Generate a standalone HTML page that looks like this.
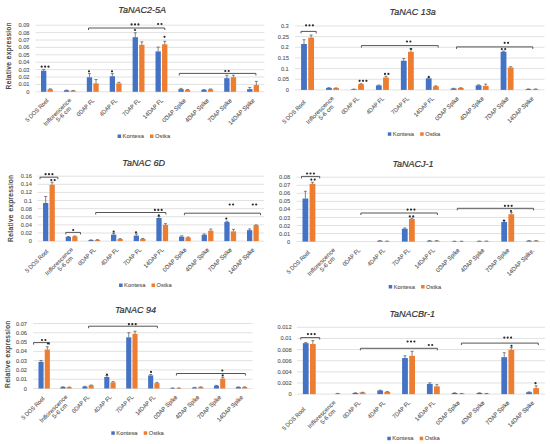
<!DOCTYPE html>
<html><head><meta charset="utf-8"><style>html,body{margin:0;padding:0;background:#fff;}svg{display:block;}text{font-family:"Liberation Sans", sans-serif;}.t{font-size:5.7px;fill:#595959;stroke:#595959;stroke-width:0.1px;text-anchor:end;}.l{font-size:6.0px;fill:#595959;stroke:#595959;stroke-width:0.1px;text-anchor:end;}.l.m{text-anchor:middle;}.a{font-size:7.5px;font-weight:bold;fill:#262626;text-anchor:middle;}.ti{font-size:9px;font-style:italic;fill:#303030;stroke:#303030;stroke-width:0.2px;text-anchor:middle;}.yl{font-size:6.6px;fill:#404040;stroke:#404040;stroke-width:0.2px;text-anchor:middle;}.lg{font-size:5.8px;fill:#595959;stroke:#595959;stroke-width:0.1px;}</style></head><body>
<svg width="550" height="444" viewBox="0 0 550 444">
<rect width="550" height="444" fill="#fff"/>
<g><line x1="35.5" y1="91.8" x2="264.5" y2="91.8" stroke="#D9D9D9" stroke-width="0.8"/><text class="t" x="29.5" y="93.85">0</text><line x1="35.5" y1="84.4" x2="264.5" y2="84.4" stroke="#D9D9D9" stroke-width="0.8"/><text class="t" x="29.5" y="86.45">0.01</text><line x1="35.5" y1="77" x2="264.5" y2="77" stroke="#D9D9D9" stroke-width="0.8"/><text class="t" x="29.5" y="79.05">0.02</text><line x1="35.5" y1="69.6" x2="264.5" y2="69.6" stroke="#D9D9D9" stroke-width="0.8"/><text class="t" x="29.5" y="71.65">0.03</text><line x1="35.5" y1="62.2" x2="264.5" y2="62.2" stroke="#D9D9D9" stroke-width="0.8"/><text class="t" x="29.5" y="64.25">0.04</text><line x1="35.5" y1="54.8" x2="264.5" y2="54.8" stroke="#D9D9D9" stroke-width="0.8"/><text class="t" x="29.5" y="56.85">0.05</text><line x1="35.5" y1="47.4" x2="264.5" y2="47.4" stroke="#D9D9D9" stroke-width="0.8"/><text class="t" x="29.5" y="49.45">0.06</text><line x1="35.5" y1="40" x2="264.5" y2="40" stroke="#D9D9D9" stroke-width="0.8"/><text class="t" x="29.5" y="42.05">0.07</text><line x1="35.5" y1="32.6" x2="264.5" y2="32.6" stroke="#D9D9D9" stroke-width="0.8"/><text class="t" x="29.5" y="34.65">0.08</text><line x1="35.5" y1="25.2" x2="264.5" y2="25.2" stroke="#D9D9D9" stroke-width="0.8"/><text class="t" x="29.5" y="27.25">0.09</text><rect x="41.01" y="70.71" width="5.33" height="21.09" fill="#4472C4"/><path d="M43.67 70.71V69.38M42.17 69.38H45.17" stroke="#505050" stroke-width="0.7" fill="none"/><rect x="47.56" y="89.21" width="5.33" height="2.59" fill="#ED7D31"/><path d="M50.23 89.21V88.84M48.73 88.84H51.73" stroke="#505050" stroke-width="0.7" fill="none"/><rect x="63.91" y="90.32" width="5.33" height="1.48" fill="#4472C4"/><path d="M66.57 90.32V90.1M65.07 90.1H68.07" stroke="#505050" stroke-width="0.7" fill="none"/><rect x="70.46" y="90.69" width="5.33" height="1.11" fill="#ED7D31"/><path d="M73.13 90.69V90.47M71.63 90.47H74.63" stroke="#505050" stroke-width="0.7" fill="none"/><rect x="86.81" y="77.3" width="5.33" height="14.5" fill="#4472C4"/><path d="M89.47 77.3V73.6M87.97 73.6H90.97" stroke="#505050" stroke-width="0.7" fill="none"/><rect x="93.36" y="83.36" width="5.33" height="8.44" fill="#ED7D31"/><path d="M96.03 83.36V79.52M94.53 79.52H97.53" stroke="#505050" stroke-width="0.7" fill="none"/><rect x="109.71" y="76.26" width="5.33" height="15.54" fill="#4472C4"/><path d="M112.37 76.26V73.67M110.87 73.67H113.87" stroke="#505050" stroke-width="0.7" fill="none"/><rect x="116.26" y="83.36" width="5.33" height="8.44" fill="#ED7D31"/><path d="M118.93 83.36V82.25M117.43 82.25H120.43" stroke="#505050" stroke-width="0.7" fill="none"/><rect x="132.61" y="37.19" width="5.33" height="54.61" fill="#4472C4"/><path d="M135.27 37.19V32.75M133.77 32.75H136.77" stroke="#505050" stroke-width="0.7" fill="none"/><rect x="139.16" y="44.81" width="5.33" height="46.99" fill="#ED7D31"/><path d="M141.83 44.81V41.85M140.33 41.85H143.33" stroke="#505050" stroke-width="0.7" fill="none"/><rect x="155.51" y="51.4" width="5.33" height="40.4" fill="#4472C4"/><path d="M158.17 51.4V47.1M156.67 47.1H159.67" stroke="#505050" stroke-width="0.7" fill="none"/><rect x="162.06" y="44.29" width="5.33" height="47.51" fill="#ED7D31"/><path d="M164.73 44.29V41.33M163.23 41.33H166.23" stroke="#505050" stroke-width="0.7" fill="none"/><rect x="178.41" y="89.14" width="5.33" height="2.66" fill="#4472C4"/><path d="M181.07 89.14V88.4M179.57 88.4H182.57" stroke="#505050" stroke-width="0.7" fill="none"/><rect x="184.96" y="89.88" width="5.33" height="1.92" fill="#ED7D31"/><path d="M187.63 89.88V89.58M186.13 89.58H189.13" stroke="#505050" stroke-width="0.7" fill="none"/><rect x="201.31" y="89.88" width="5.33" height="1.92" fill="#4472C4"/><path d="M203.97 89.88V89.58M202.47 89.58H205.47" stroke="#505050" stroke-width="0.7" fill="none"/><rect x="207.86" y="89.28" width="5.33" height="2.52" fill="#ED7D31"/><path d="M210.53 89.28V88.99M209.03 88.99H212.03" stroke="#505050" stroke-width="0.7" fill="none"/><rect x="224.21" y="78.18" width="5.33" height="13.62" fill="#4472C4"/><path d="M226.87 78.18V75.22M225.37 75.22H228.37" stroke="#505050" stroke-width="0.7" fill="none"/><rect x="230.76" y="77.22" width="5.33" height="14.58" fill="#ED7D31"/><path d="M233.43 77.22V75.22M231.93 75.22H234.93" stroke="#505050" stroke-width="0.7" fill="none"/><rect x="247.11" y="89.14" width="5.33" height="2.66" fill="#4472C4"/><path d="M249.77 89.14V87.43M248.27 87.43H251.27" stroke="#505050" stroke-width="0.7" fill="none"/><rect x="253.66" y="85.07" width="5.33" height="6.73" fill="#ED7D31"/><path d="M256.33 85.07V81.37M254.83 81.37H257.83" stroke="#505050" stroke-width="0.7" fill="none"/><text class="l" transform="translate(48.95 101) rotate(-45)" textLength="30" lengthAdjust="spacingAndGlyphs">5 DOS Root</text><text class="l m" transform="translate(71.85 101) rotate(-45)"><tspan x="-18.1" y="-0.5" textLength="36.47" lengthAdjust="spacingAndGlyphs">Inflorescence</tspan><tspan x="-15.2" y="5.4" textLength="18.54" lengthAdjust="spacingAndGlyphs">5-6 cm</tspan></text><text class="l" transform="translate(94.75 101) rotate(-45)" textLength="22.27" lengthAdjust="spacingAndGlyphs">0DAP FL</text><text class="l" transform="translate(117.65 101) rotate(-45)" textLength="22.27" lengthAdjust="spacingAndGlyphs">4DAP FL</text><text class="l" transform="translate(140.55 101) rotate(-45)" textLength="22.27" lengthAdjust="spacingAndGlyphs">7DAP FL</text><text class="l" transform="translate(163.45 101) rotate(-45)" textLength="25.66" lengthAdjust="spacingAndGlyphs">14DAP FL</text><text class="l" transform="translate(186.35 101) rotate(-45)" textLength="30.89" lengthAdjust="spacingAndGlyphs">0DAP Spike</text><text class="l" transform="translate(209.25 101) rotate(-45)" textLength="30.89" lengthAdjust="spacingAndGlyphs">4DAP Spike</text><text class="l" transform="translate(232.15 101) rotate(-45)" textLength="30.89" lengthAdjust="spacingAndGlyphs">7DAP Spike</text><text class="l" transform="translate(255.05 101) rotate(-45)" textLength="34.28" lengthAdjust="spacingAndGlyphs">14DAP Spike</text><path d="M88.5 30V28H164.8V30" stroke="#555" stroke-width="1.0" fill="none"/><path d="M179.3 75.4V73.4H255.9V75.4" stroke="#555" stroke-width="1.0" fill="none"/><circle cx="41.7" cy="66.7" r="1.1" fill="#2b2b2b"/><circle cx="45.1" cy="66.7" r="1.1" fill="#2b2b2b"/><circle cx="48.5" cy="66.7" r="1.1" fill="#2b2b2b"/><circle cx="89" cy="71.3" r="1.1" fill="#2b2b2b"/><circle cx="112" cy="71.3" r="1.1" fill="#2b2b2b"/><circle cx="135" cy="30" r="1.1" fill="#2b2b2b"/><circle cx="131.6" cy="24.4" r="1.1" fill="#2b2b2b"/><circle cx="135" cy="24.4" r="1.1" fill="#2b2b2b"/><circle cx="138.4" cy="24.4" r="1.1" fill="#2b2b2b"/><circle cx="158.1" cy="24" r="1.1" fill="#2b2b2b"/><circle cx="161.5" cy="24" r="1.1" fill="#2b2b2b"/><circle cx="164.5" cy="36.8" r="1.1" fill="#2b2b2b"/><circle cx="225.3" cy="71" r="1.1" fill="#2b2b2b"/><circle cx="228.7" cy="71" r="1.1" fill="#2b2b2b"/><text class="ti" x="142.1" y="12.8">TaNAC2-5A</text><text class="yl" transform="translate(11.2 56.1) rotate(-90)" textLength="67" lengthAdjust="spacing">Relative expression</text><rect x="117.6" y="134.5" width="3.5" height="3.5" fill="#4472C4"/><text class="lg" x="122.6" y="138.1">Kontesa</text><rect x="150" y="134.5" width="3.5" height="3.5" fill="#ED7D31"/><text class="lg" x="155" y="138.1">Ostka</text></g>
<g><line x1="295.1" y1="89.9" x2="544.5" y2="89.9" stroke="#D9D9D9" stroke-width="0.8"/><text class="t" x="288.8" y="91.95">0</text><line x1="295.1" y1="79.25" x2="544.5" y2="79.25" stroke="#D9D9D9" stroke-width="0.8"/><text class="t" x="288.8" y="81.3">0.05</text><line x1="295.1" y1="68.6" x2="544.5" y2="68.6" stroke="#D9D9D9" stroke-width="0.8"/><text class="t" x="288.8" y="70.65">0.1</text><line x1="295.1" y1="57.95" x2="544.5" y2="57.95" stroke="#D9D9D9" stroke-width="0.8"/><text class="t" x="288.8" y="60">0.15</text><line x1="295.1" y1="47.3" x2="544.5" y2="47.3" stroke="#D9D9D9" stroke-width="0.8"/><text class="t" x="288.8" y="49.35">0.2</text><line x1="295.1" y1="36.65" x2="544.5" y2="36.65" stroke="#D9D9D9" stroke-width="0.8"/><text class="t" x="288.8" y="38.7">0.25</text><line x1="295.1" y1="26" x2="544.5" y2="26" stroke="#D9D9D9" stroke-width="0.8"/><text class="t" x="288.8" y="28.05">0.3</text><rect x="301.1" y="44" width="5.8" height="45.9" fill="#4472C4"/><path d="M304 44V39.74M302.5 39.74H305.5" stroke="#505050" stroke-width="0.7" fill="none"/><rect x="308.24" y="37.61" width="5.8" height="52.29" fill="#ED7D31"/><path d="M311.14 37.61V35.05M309.64 35.05H312.64" stroke="#505050" stroke-width="0.7" fill="none"/><rect x="326.04" y="87.9" width="5.8" height="2" fill="#4472C4"/><path d="M328.94 87.9V87.68M327.44 87.68H330.44" stroke="#505050" stroke-width="0.7" fill="none"/><rect x="333.18" y="88.09" width="5.8" height="1.81" fill="#ED7D31"/><path d="M336.08 88.09V87.88M334.58 87.88H337.58" stroke="#505050" stroke-width="0.7" fill="none"/><rect x="350.98" y="89.26" width="5.8" height="0.64" fill="#4472C4"/><path d="M353.88 89.26V89.05M352.38 89.05H355.38" stroke="#505050" stroke-width="0.7" fill="none"/><rect x="358.12" y="84.15" width="5.8" height="5.75" fill="#ED7D31"/><path d="M361.02 84.15V83.72M359.52 83.72H362.52" stroke="#505050" stroke-width="0.7" fill="none"/><rect x="375.92" y="85.43" width="5.8" height="4.47" fill="#4472C4"/><path d="M378.82 85.43V85M377.32 85H380.32" stroke="#505050" stroke-width="0.7" fill="none"/><rect x="383.06" y="77.55" width="5.8" height="12.35" fill="#ED7D31"/><path d="M385.96 77.55V76.27M384.46 76.27H387.46" stroke="#505050" stroke-width="0.7" fill="none"/><rect x="400.86" y="60.72" width="5.8" height="29.18" fill="#4472C4"/><path d="M403.76 60.72V58.59M402.26 58.59H405.26" stroke="#505050" stroke-width="0.7" fill="none"/><rect x="408" y="51.77" width="5.8" height="38.13" fill="#ED7D31"/><path d="M410.9 51.77V48.58M409.4 48.58H412.4" stroke="#505050" stroke-width="0.7" fill="none"/><rect x="425.8" y="78.4" width="5.8" height="11.5" fill="#4472C4"/><path d="M428.7 78.4V77.76M427.2 77.76H430.2" stroke="#505050" stroke-width="0.7" fill="none"/><rect x="432.94" y="86.28" width="5.8" height="3.62" fill="#ED7D31"/><path d="M435.84 86.28V85.85M434.34 85.85H437.34" stroke="#505050" stroke-width="0.7" fill="none"/><rect x="450.74" y="88.49" width="5.8" height="1.41" fill="#4472C4"/><path d="M453.64 88.49V88.28M452.14 88.28H455.14" stroke="#505050" stroke-width="0.7" fill="none"/><rect x="457.88" y="87.98" width="5.8" height="1.92" fill="#ED7D31"/><path d="M460.78 87.98V87.77M459.28 87.77H462.28" stroke="#505050" stroke-width="0.7" fill="none"/><rect x="475.68" y="85.3" width="5.8" height="4.6" fill="#4472C4"/><path d="M478.58 85.3V84.87M477.08 84.87H480.08" stroke="#505050" stroke-width="0.7" fill="none"/><rect x="482.82" y="85.85" width="5.8" height="4.05" fill="#ED7D31"/><path d="M485.72 85.85V84.15M484.22 84.15H487.22" stroke="#505050" stroke-width="0.7" fill="none"/><rect x="500.62" y="51.77" width="5.8" height="38.13" fill="#4472C4"/><path d="M503.52 51.77V51.13M502.02 51.13H505.02" stroke="#505050" stroke-width="0.7" fill="none"/><rect x="507.76" y="67.53" width="5.8" height="22.37" fill="#ED7D31"/><path d="M510.66 67.53V66.68M509.16 66.68H512.16" stroke="#505050" stroke-width="0.7" fill="none"/><rect x="525.56" y="89.05" width="5.8" height="0.85" fill="#4472C4"/><path d="M528.46 89.05V88.94M526.96 88.94H529.96" stroke="#505050" stroke-width="0.7" fill="none"/><rect x="532.7" y="89.05" width="5.8" height="0.85" fill="#ED7D31"/><path d="M535.6 89.05V88.94M534.1 88.94H537.1" stroke="#505050" stroke-width="0.7" fill="none"/><text class="l" transform="translate(305.96 102.71) rotate(-45)" textLength="30" lengthAdjust="spacingAndGlyphs">5 DOS Root</text><text class="l m" transform="translate(334.51 99.1) rotate(-45)"><tspan x="-18.1" y="-0.5" textLength="36.47" lengthAdjust="spacingAndGlyphs">Inflorescence</tspan><tspan x="-15.2" y="5.4" textLength="18.54" lengthAdjust="spacingAndGlyphs">5-6 cm</tspan></text><text class="l" transform="translate(359.45 99.1) rotate(-45)" textLength="22.27" lengthAdjust="spacingAndGlyphs">0DAP FL</text><text class="l" transform="translate(384.39 99.1) rotate(-45)" textLength="22.27" lengthAdjust="spacingAndGlyphs">4DAP FL</text><text class="l" transform="translate(409.33 99.1) rotate(-45)" textLength="22.27" lengthAdjust="spacingAndGlyphs">7DAP FL</text><text class="l" transform="translate(434.27 99.1) rotate(-45)" textLength="25.66" lengthAdjust="spacingAndGlyphs">14DAP FL</text><text class="l" transform="translate(459.21 99.1) rotate(-45)" textLength="30.89" lengthAdjust="spacingAndGlyphs">0DAP Spike</text><text class="l" transform="translate(484.15 99.1) rotate(-45)" textLength="30.89" lengthAdjust="spacingAndGlyphs">4DAP Spike</text><text class="l" transform="translate(509.09 99.1) rotate(-45)" textLength="30.89" lengthAdjust="spacingAndGlyphs">7DAP Spike</text><text class="l" transform="translate(534.03 99.1) rotate(-45)" textLength="34.28" lengthAdjust="spacingAndGlyphs">14DAP Spike</text><path d="M301 33.4V31.4H316.2V33.4" stroke="#555" stroke-width="1.0" fill="none"/><path d="M361.4 47.6V45.6H438.2V47.6" stroke="#555" stroke-width="1.0" fill="none"/><path d="M456.5 48.9V46.9H532.8V48.9" stroke="#555" stroke-width="1.0" fill="none"/><circle cx="306.1" cy="25.3" r="1.1" fill="#2b2b2b"/><circle cx="309.5" cy="25.3" r="1.1" fill="#2b2b2b"/><circle cx="312.9" cy="25.3" r="1.1" fill="#2b2b2b"/><circle cx="359.6" cy="80.8" r="1.1" fill="#2b2b2b"/><circle cx="363" cy="80.8" r="1.1" fill="#2b2b2b"/><circle cx="366.4" cy="80.8" r="1.1" fill="#2b2b2b"/><circle cx="385" cy="73.9" r="1.1" fill="#2b2b2b"/><circle cx="388.4" cy="73.9" r="1.1" fill="#2b2b2b"/><circle cx="407" cy="41.5" r="1.1" fill="#2b2b2b"/><circle cx="410.4" cy="41.5" r="1.1" fill="#2b2b2b"/><circle cx="411" cy="49" r="1.1" fill="#2b2b2b"/><circle cx="428.8" cy="76.9" r="1.1" fill="#2b2b2b"/><circle cx="504.7" cy="42.8" r="1.1" fill="#2b2b2b"/><circle cx="508.1" cy="42.8" r="1.1" fill="#2b2b2b"/><circle cx="501.8" cy="49.1" r="1.1" fill="#2b2b2b"/><circle cx="505.2" cy="49.1" r="1.1" fill="#2b2b2b"/><text class="ti" x="412.7" y="15.4">TaNAC 13a</text><rect x="387.8" y="132.3" width="3.5" height="3.5" fill="#4472C4"/><text class="lg" x="392.8" y="135.9">Kontesa</text><rect x="420.2" y="132.3" width="3.5" height="3.5" fill="#ED7D31"/><text class="lg" x="425.2" y="135.9">Ostka</text></g>
<g><line x1="37.6" y1="241.1" x2="264.2" y2="241.1" stroke="#D9D9D9" stroke-width="0.8"/><text class="t" x="31.9" y="243.15">0</text><line x1="37.6" y1="232.99" x2="264.2" y2="232.99" stroke="#D9D9D9" stroke-width="0.8"/><text class="t" x="31.9" y="235.04">0.02</text><line x1="37.6" y1="224.88" x2="264.2" y2="224.88" stroke="#D9D9D9" stroke-width="0.8"/><text class="t" x="31.9" y="226.93">0.04</text><line x1="37.6" y1="216.76" x2="264.2" y2="216.76" stroke="#D9D9D9" stroke-width="0.8"/><text class="t" x="31.9" y="218.81">0.06</text><line x1="37.6" y1="208.65" x2="264.2" y2="208.65" stroke="#D9D9D9" stroke-width="0.8"/><text class="t" x="31.9" y="210.7">0.08</text><line x1="37.6" y1="200.54" x2="264.2" y2="200.54" stroke="#D9D9D9" stroke-width="0.8"/><text class="t" x="31.9" y="202.59">0.1</text><line x1="37.6" y1="192.43" x2="264.2" y2="192.43" stroke="#D9D9D9" stroke-width="0.8"/><text class="t" x="31.9" y="194.48">0.12</text><line x1="37.6" y1="184.31" x2="264.2" y2="184.31" stroke="#D9D9D9" stroke-width="0.8"/><text class="t" x="31.9" y="186.36">0.14</text><line x1="37.6" y1="176.2" x2="264.2" y2="176.2" stroke="#D9D9D9" stroke-width="0.8"/><text class="t" x="31.9" y="178.25">0.16</text><rect x="43.05" y="202.97" width="5.27" height="38.13" fill="#4472C4"/><path d="M45.69 202.97V196.48M44.19 196.48H47.19" stroke="#505050" stroke-width="0.7" fill="none"/><rect x="49.54" y="184.72" width="5.27" height="56.38" fill="#ED7D31"/><path d="M52.17 184.72V182.28M50.67 182.28H53.67" stroke="#505050" stroke-width="0.7" fill="none"/><rect x="65.71" y="236.88" width="5.27" height="4.22" fill="#4472C4"/><path d="M68.35 236.88V236.48M66.85 236.48H69.85" stroke="#505050" stroke-width="0.7" fill="none"/><rect x="72.2" y="236.39" width="5.27" height="4.71" fill="#ED7D31"/><path d="M74.83 236.39V235.99M73.33 235.99H76.33" stroke="#505050" stroke-width="0.7" fill="none"/><rect x="88.37" y="240.09" width="5.27" height="1.01" fill="#4472C4"/><path d="M91.01 240.09V239.88M89.51 239.88H92.51" stroke="#505050" stroke-width="0.7" fill="none"/><rect x="94.86" y="239.88" width="5.27" height="1.22" fill="#ED7D31"/><path d="M97.49 239.88V239.68M95.99 239.68H98.99" stroke="#505050" stroke-width="0.7" fill="none"/><rect x="111.03" y="234.61" width="5.27" height="6.49" fill="#4472C4"/><path d="M113.67 234.61V233.39M112.17 233.39H115.17" stroke="#505050" stroke-width="0.7" fill="none"/><rect x="117.52" y="239.07" width="5.27" height="2.03" fill="#ED7D31"/><path d="M120.15 239.07V238.67M118.65 238.67H121.65" stroke="#505050" stroke-width="0.7" fill="none"/><rect x="133.69" y="235.62" width="5.27" height="5.48" fill="#4472C4"/><path d="M136.33 235.62V234M134.83 234H137.83" stroke="#505050" stroke-width="0.7" fill="none"/><rect x="140.18" y="238.87" width="5.27" height="2.23" fill="#ED7D31"/><path d="M142.81 238.87V238.46M141.31 238.46H144.31" stroke="#505050" stroke-width="0.7" fill="none"/><rect x="156.35" y="217.98" width="5.27" height="23.12" fill="#4472C4"/><path d="M158.99 217.98V216.36M157.49 216.36H160.49" stroke="#505050" stroke-width="0.7" fill="none"/><rect x="162.84" y="224.88" width="5.27" height="16.23" fill="#ED7D31"/><path d="M165.47 224.88V223.66M163.97 223.66H166.97" stroke="#505050" stroke-width="0.7" fill="none"/><rect x="179.01" y="236.64" width="5.27" height="4.46" fill="#4472C4"/><path d="M181.65 236.64V235.83M180.15 235.83H183.15" stroke="#505050" stroke-width="0.7" fill="none"/><rect x="185.5" y="237.49" width="5.27" height="3.61" fill="#ED7D31"/><path d="M188.13 237.49V237.08M186.63 237.08H189.63" stroke="#505050" stroke-width="0.7" fill="none"/><rect x="201.67" y="234.77" width="5.27" height="6.33" fill="#4472C4"/><path d="M204.31 234.77V233.96M202.81 233.96H205.81" stroke="#505050" stroke-width="0.7" fill="none"/><rect x="208.16" y="230.68" width="5.27" height="10.42" fill="#ED7D31"/><path d="M210.79 230.68V229.05M209.29 229.05H212.29" stroke="#505050" stroke-width="0.7" fill="none"/><rect x="224.33" y="222.04" width="5.27" height="19.06" fill="#4472C4"/><path d="M226.97 222.04V221.22M225.47 221.22H228.47" stroke="#505050" stroke-width="0.7" fill="none"/><rect x="230.82" y="231.37" width="5.27" height="9.73" fill="#ED7D31"/><path d="M233.45 231.37V229.34M231.95 229.34H234.95" stroke="#505050" stroke-width="0.7" fill="none"/><rect x="246.99" y="230.15" width="5.27" height="10.95" fill="#4472C4"/><path d="M249.63 230.15V228.93M248.13 228.93H251.13" stroke="#505050" stroke-width="0.7" fill="none"/><rect x="253.48" y="225.28" width="5.27" height="15.82" fill="#ED7D31"/><path d="M256.11 225.28V224.88M254.61 224.88H257.61" stroke="#505050" stroke-width="0.7" fill="none"/><text class="l" transform="translate(48.67 251.86) rotate(-45)" textLength="30" lengthAdjust="spacingAndGlyphs">5 DOS Root</text><text class="l m" transform="translate(73.59 250.3) rotate(-45)"><tspan x="-18.1" y="-0.5" textLength="36.47" lengthAdjust="spacingAndGlyphs">Inflorescence</tspan><tspan x="-15.2" y="5.4" textLength="18.54" lengthAdjust="spacingAndGlyphs">5-6 cm</tspan></text><text class="l" transform="translate(96.25 250.3) rotate(-45)" textLength="22.27" lengthAdjust="spacingAndGlyphs">0DAP FL</text><text class="l" transform="translate(118.91 250.3) rotate(-45)" textLength="22.27" lengthAdjust="spacingAndGlyphs">4DAP FL</text><text class="l" transform="translate(141.57 250.3) rotate(-45)" textLength="22.27" lengthAdjust="spacingAndGlyphs">7DAP FL</text><text class="l" transform="translate(164.23 250.3) rotate(-45)" textLength="25.66" lengthAdjust="spacingAndGlyphs">14DAP FL</text><text class="l" transform="translate(186.89 250.3) rotate(-45)" textLength="30.89" lengthAdjust="spacingAndGlyphs">0DAP Spike</text><text class="l" transform="translate(209.55 250.3) rotate(-45)" textLength="30.89" lengthAdjust="spacingAndGlyphs">4DAP Spike</text><text class="l" transform="translate(232.21 250.3) rotate(-45)" textLength="30.89" lengthAdjust="spacingAndGlyphs">7DAP Spike</text><text class="l" transform="translate(254.87 250.3) rotate(-45)" textLength="34.28" lengthAdjust="spacingAndGlyphs">14DAP Spike</text><path d="M40 179.2V177.2H57.9V179.2" stroke="#555" stroke-width="1.0" fill="none"/><path d="M65.8 234.4V232.4H80.5V234.4" stroke="#555" stroke-width="1.0" fill="none"/><path d="M95.7 214.5V212.5H165.9V214.5" stroke="#555" stroke-width="1.0" fill="none"/><path d="M184.4 215.2V213.2H260.5V215.2" stroke="#555" stroke-width="1.0" fill="none"/><circle cx="45.6" cy="174.2" r="1.1" fill="#2b2b2b"/><circle cx="49" cy="174.2" r="1.1" fill="#2b2b2b"/><circle cx="52.4" cy="174.2" r="1.1" fill="#2b2b2b"/><circle cx="51.3" cy="180.1" r="1.1" fill="#2b2b2b"/><circle cx="54.7" cy="180.1" r="1.1" fill="#2b2b2b"/><circle cx="73.2" cy="230" r="1.1" fill="#2b2b2b"/><circle cx="113.7" cy="231.7" r="1.1" fill="#2b2b2b"/><circle cx="136" cy="232.3" r="1.1" fill="#2b2b2b"/><circle cx="154.9" cy="209.9" r="1.1" fill="#2b2b2b"/><circle cx="158.3" cy="209.9" r="1.1" fill="#2b2b2b"/><circle cx="161.7" cy="209.9" r="1.1" fill="#2b2b2b"/><circle cx="158.8" cy="215.4" r="1.1" fill="#2b2b2b"/><circle cx="229.7" cy="204.5" r="1.1" fill="#2b2b2b"/><circle cx="233.1" cy="204.5" r="1.1" fill="#2b2b2b"/><circle cx="252.8" cy="204.5" r="1.1" fill="#2b2b2b"/><circle cx="256.2" cy="204.5" r="1.1" fill="#2b2b2b"/><circle cx="226.3" cy="218.6" r="1.1" fill="#2b2b2b"/><text class="ti" x="143.6" y="165.5">TaNAC 6D</text><text class="yl" transform="translate(12.8 208.5) rotate(-90)" textLength="67" lengthAdjust="spacing">Relative expression</text><rect x="119.1" y="283.5" width="3.5" height="3.5" fill="#4472C4"/><text class="lg" x="124.1" y="287.1">Kontesa</text><rect x="151.5" y="283.5" width="3.5" height="3.5" fill="#ED7D31"/><text class="lg" x="156.5" y="287.1">Ostka</text></g>
<g><line x1="296.5" y1="241.6" x2="545" y2="241.6" stroke="#D9D9D9" stroke-width="0.8"/><text class="t" x="290.2" y="243.65">0</text><line x1="296.5" y1="233.55" x2="545" y2="233.55" stroke="#D9D9D9" stroke-width="0.8"/><text class="t" x="290.2" y="235.6">0.01</text><line x1="296.5" y1="225.5" x2="545" y2="225.5" stroke="#D9D9D9" stroke-width="0.8"/><text class="t" x="290.2" y="227.55">0.02</text><line x1="296.5" y1="217.45" x2="545" y2="217.45" stroke="#D9D9D9" stroke-width="0.8"/><text class="t" x="290.2" y="219.5">0.03</text><line x1="296.5" y1="209.4" x2="545" y2="209.4" stroke="#D9D9D9" stroke-width="0.8"/><text class="t" x="290.2" y="211.45">0.04</text><line x1="296.5" y1="201.35" x2="545" y2="201.35" stroke="#D9D9D9" stroke-width="0.8"/><text class="t" x="290.2" y="203.4">0.05</text><line x1="296.5" y1="193.3" x2="545" y2="193.3" stroke="#D9D9D9" stroke-width="0.8"/><text class="t" x="290.2" y="195.35">0.06</text><line x1="296.5" y1="185.25" x2="545" y2="185.25" stroke="#D9D9D9" stroke-width="0.8"/><text class="t" x="290.2" y="187.3">0.07</text><line x1="296.5" y1="177.2" x2="545" y2="177.2" stroke="#D9D9D9" stroke-width="0.8"/><text class="t" x="290.2" y="179.25">0.08</text><rect x="302.48" y="198.53" width="5.78" height="43.07" fill="#4472C4"/><path d="M305.37 198.53V191.29M303.87 191.29H306.87" stroke="#505050" stroke-width="0.7" fill="none"/><rect x="309.59" y="183.8" width="5.78" height="57.8" fill="#ED7D31"/><path d="M312.48 183.8V182.19M310.98 182.19H313.98" stroke="#505050" stroke-width="0.7" fill="none"/><rect x="377.03" y="240.79" width="5.78" height="0.81" fill="#4472C4"/><path d="M379.92 240.79V240.63M378.42 240.63H381.42" stroke="#505050" stroke-width="0.7" fill="none"/><rect x="384.14" y="241.2" width="5.78" height="0.4" fill="#ED7D31"/><path d="M387.03 241.2V241.04M385.53 241.04H388.53" stroke="#505050" stroke-width="0.7" fill="none"/><rect x="401.88" y="228.72" width="5.78" height="12.88" fill="#4472C4"/><path d="M404.77 228.72V227.91M403.27 227.91H406.27" stroke="#505050" stroke-width="0.7" fill="none"/><rect x="408.99" y="219.06" width="5.78" height="22.54" fill="#ED7D31"/><path d="M411.88 219.06V218.25M410.38 218.25H413.38" stroke="#505050" stroke-width="0.7" fill="none"/><rect x="426.73" y="240.79" width="5.78" height="0.81" fill="#4472C4"/><path d="M429.62 240.79V240.63M428.12 240.63H431.12" stroke="#505050" stroke-width="0.7" fill="none"/><rect x="433.84" y="240.79" width="5.78" height="0.81" fill="#ED7D31"/><path d="M436.73 240.79V240.63M435.23 240.63H438.23" stroke="#505050" stroke-width="0.7" fill="none"/><rect x="451.58" y="241.28" width="5.78" height="0.32" fill="#4472C4"/><path d="M454.47 241.28V241.2M452.97 241.2H455.97" stroke="#505050" stroke-width="0.7" fill="none"/><rect x="458.69" y="241.28" width="5.78" height="0.32" fill="#ED7D31"/><path d="M461.58 241.28V241.2M460.08 241.2H463.08" stroke="#505050" stroke-width="0.7" fill="none"/><rect x="476.43" y="241.12" width="5.78" height="0.48" fill="#4472C4"/><path d="M479.32 241.12V241.04M477.82 241.04H480.82" stroke="#505050" stroke-width="0.7" fill="none"/><rect x="483.54" y="241.12" width="5.78" height="0.48" fill="#ED7D31"/><path d="M486.43 241.12V241.04M484.93 241.04H487.93" stroke="#505050" stroke-width="0.7" fill="none"/><rect x="501.28" y="221.96" width="5.78" height="19.64" fill="#4472C4"/><path d="M504.17 221.96V220.75M502.67 220.75H505.67" stroke="#505050" stroke-width="0.7" fill="none"/><rect x="508.39" y="214.23" width="5.78" height="27.37" fill="#ED7D31"/><path d="M511.28 214.23V212.62M509.78 212.62H512.78" stroke="#505050" stroke-width="0.7" fill="none"/><rect x="526.13" y="240.79" width="5.78" height="0.81" fill="#4472C4"/><path d="M529.02 240.79V240.63M527.52 240.63H530.52" stroke="#505050" stroke-width="0.7" fill="none"/><rect x="533.24" y="240.79" width="5.78" height="0.81" fill="#ED7D31"/><path d="M536.13 240.79V240.63M534.63 240.63H537.63" stroke="#505050" stroke-width="0.7" fill="none"/><text class="l" transform="translate(310.22 252.92) rotate(-45)" textLength="30" lengthAdjust="spacingAndGlyphs">5 DOS Root</text><text class="l m" transform="translate(335.77 250.8) rotate(-45)"><tspan x="-18.1" y="-0.5" textLength="36.47" lengthAdjust="spacingAndGlyphs">Inflorescence</tspan><tspan x="-15.2" y="5.4" textLength="18.54" lengthAdjust="spacingAndGlyphs">5-6 cm</tspan></text><text class="l" transform="translate(360.62 250.8) rotate(-45)" textLength="22.27" lengthAdjust="spacingAndGlyphs">0DAP FL</text><text class="l" transform="translate(385.48 250.8) rotate(-45)" textLength="22.27" lengthAdjust="spacingAndGlyphs">4DAP FL</text><text class="l" transform="translate(410.32 250.8) rotate(-45)" textLength="22.27" lengthAdjust="spacingAndGlyphs">7DAP FL</text><text class="l" transform="translate(435.18 250.8) rotate(-45)" textLength="25.66" lengthAdjust="spacingAndGlyphs">14DAP FL</text><text class="l" transform="translate(460.02 250.8) rotate(-45)" textLength="30.89" lengthAdjust="spacingAndGlyphs">0DAP Spike</text><text class="l" transform="translate(484.88 250.8) rotate(-45)" textLength="30.89" lengthAdjust="spacingAndGlyphs">4DAP Spike</text><text class="l" transform="translate(509.73 250.8) rotate(-45)" textLength="30.89" lengthAdjust="spacingAndGlyphs">7DAP Spike</text><text class="l" transform="translate(534.58 250.8) rotate(-45)" textLength="35.97" lengthAdjust="spacingAndGlyphs">14DAP Spike.</text><path d="M301.5 178.4V176.4H319.7V178.4" stroke="#555" stroke-width="1.0" fill="none"/><path d="M360.9 215V213H437.4V215" stroke="#555" stroke-width="1.0" fill="none"/><path d="M457.3 210.3V208.3H533.6V210.3" stroke="#555" stroke-width="1.0" fill="none"/><circle cx="307.1" cy="173.5" r="1.1" fill="#2b2b2b"/><circle cx="310.5" cy="173.5" r="1.1" fill="#2b2b2b"/><circle cx="313.9" cy="173.5" r="1.1" fill="#2b2b2b"/><circle cx="311.3" cy="179.6" r="1.1" fill="#2b2b2b"/><circle cx="314.7" cy="179.6" r="1.1" fill="#2b2b2b"/><circle cx="407.6" cy="209.6" r="1.1" fill="#2b2b2b"/><circle cx="411" cy="209.6" r="1.1" fill="#2b2b2b"/><circle cx="414.4" cy="209.6" r="1.1" fill="#2b2b2b"/><circle cx="409.8" cy="216.4" r="1.1" fill="#2b2b2b"/><circle cx="413.2" cy="216.4" r="1.1" fill="#2b2b2b"/><circle cx="504.9" cy="205.8" r="1.1" fill="#2b2b2b"/><circle cx="508.3" cy="205.8" r="1.1" fill="#2b2b2b"/><circle cx="511.7" cy="205.8" r="1.1" fill="#2b2b2b"/><circle cx="511" cy="211" r="1.1" fill="#2b2b2b"/><circle cx="504" cy="220.5" r="1.1" fill="#2b2b2b"/><text class="ti" x="413" y="166.7">TaNACJ-1</text><rect x="388.7" y="285" width="3.5" height="3.5" fill="#4472C4"/><text class="lg" x="393.7" y="288.6">Kontesa</text><rect x="421.1" y="285" width="3.5" height="3.5" fill="#ED7D31"/><text class="lg" x="426.1" y="288.6">Ostka</text></g>
<g><line x1="33.2" y1="388.5" x2="252.5" y2="388.5" stroke="#D9D9D9" stroke-width="0.8"/><text class="t" x="27" y="390.55">0</text><line x1="33.2" y1="379.21" x2="252.5" y2="379.21" stroke="#D9D9D9" stroke-width="0.8"/><text class="t" x="27" y="381.27">0.01</text><line x1="33.2" y1="369.93" x2="252.5" y2="369.93" stroke="#D9D9D9" stroke-width="0.8"/><text class="t" x="27" y="371.98">0.02</text><line x1="33.2" y1="360.64" x2="252.5" y2="360.64" stroke="#D9D9D9" stroke-width="0.8"/><text class="t" x="27" y="362.69">0.03</text><line x1="33.2" y1="351.36" x2="252.5" y2="351.36" stroke="#D9D9D9" stroke-width="0.8"/><text class="t" x="27" y="353.41">0.04</text><line x1="33.2" y1="342.07" x2="252.5" y2="342.07" stroke="#D9D9D9" stroke-width="0.8"/><text class="t" x="27" y="344.12">0.05</text><line x1="33.2" y1="332.79" x2="252.5" y2="332.79" stroke="#D9D9D9" stroke-width="0.8"/><text class="t" x="27" y="334.84">0.06</text><line x1="33.2" y1="323.5" x2="252.5" y2="323.5" stroke="#D9D9D9" stroke-width="0.8"/><text class="t" x="27" y="325.55">0.07</text><rect x="38.48" y="361.85" width="5.1" height="26.65" fill="#4472C4"/><path d="M41.03 361.85V360.46M39.53 360.46H42.53" stroke="#505050" stroke-width="0.7" fill="none"/><rect x="44.75" y="349.5" width="5.1" height="39" fill="#ED7D31"/><path d="M47.3 349.5V346.71M45.8 346.71H48.8" stroke="#505050" stroke-width="0.7" fill="none"/><rect x="60.41" y="387.01" width="5.1" height="1.49" fill="#4472C4"/><path d="M62.96 387.01V386.83M61.46 386.83H64.46" stroke="#505050" stroke-width="0.7" fill="none"/><rect x="66.68" y="387.29" width="5.1" height="1.21" fill="#ED7D31"/><path d="M69.23 387.29V387.11M67.73 387.11H70.73" stroke="#505050" stroke-width="0.7" fill="none"/><rect x="82.34" y="386.64" width="5.1" height="1.86" fill="#4472C4"/><path d="M84.89 386.64V386.36M83.39 386.36H86.39" stroke="#505050" stroke-width="0.7" fill="none"/><rect x="88.61" y="385.34" width="5.1" height="3.16" fill="#ED7D31"/><path d="M91.16 385.34V385.06M89.66 385.06H92.66" stroke="#505050" stroke-width="0.7" fill="none"/><rect x="104.27" y="376.99" width="5.1" height="11.51" fill="#4472C4"/><path d="M106.82 376.99V375.59M105.32 375.59H108.32" stroke="#505050" stroke-width="0.7" fill="none"/><rect x="110.54" y="382.37" width="5.1" height="6.13" fill="#ED7D31"/><path d="M113.09 382.37V381.63M111.59 381.63H114.59" stroke="#505050" stroke-width="0.7" fill="none"/><rect x="126.2" y="337.34" width="5.1" height="51.16" fill="#4472C4"/><path d="M128.75 337.34V332.69M127.25 332.69H130.25" stroke="#505050" stroke-width="0.7" fill="none"/><rect x="132.47" y="333.99" width="5.1" height="54.51" fill="#ED7D31"/><path d="M135.02 333.99V331.21M133.52 331.21H136.52" stroke="#505050" stroke-width="0.7" fill="none"/><rect x="148.13" y="375.41" width="5.1" height="13.09" fill="#4472C4"/><path d="M150.68 375.41V374.48M149.18 374.48H152.18" stroke="#505050" stroke-width="0.7" fill="none"/><rect x="154.4" y="383.11" width="5.1" height="5.39" fill="#ED7D31"/><path d="M156.95 383.11V382.37M155.45 382.37H158.45" stroke="#505050" stroke-width="0.7" fill="none"/><rect x="170.06" y="388.04" width="5.1" height="0.46" fill="#4472C4"/><path d="M172.61 388.04V387.94M171.11 387.94H174.11" stroke="#505050" stroke-width="0.7" fill="none"/><rect x="176.33" y="388.04" width="5.1" height="0.46" fill="#ED7D31"/><path d="M178.88 388.04V387.94M177.38 387.94H180.38" stroke="#505050" stroke-width="0.7" fill="none"/><rect x="191.99" y="387.57" width="5.1" height="0.93" fill="#4472C4"/><path d="M194.54 387.57V387.39M193.04 387.39H196.04" stroke="#505050" stroke-width="0.7" fill="none"/><rect x="198.26" y="387.11" width="5.1" height="1.39" fill="#ED7D31"/><path d="M200.81 387.11V386.92M199.31 386.92H202.31" stroke="#505050" stroke-width="0.7" fill="none"/><rect x="213.92" y="385.81" width="5.1" height="2.69" fill="#4472C4"/><path d="M216.47 385.81V385.44M214.97 385.44H217.97" stroke="#505050" stroke-width="0.7" fill="none"/><rect x="220.19" y="378.75" width="5.1" height="9.75" fill="#ED7D31"/><path d="M222.74 378.75V377.36M221.24 377.36H224.24" stroke="#505050" stroke-width="0.7" fill="none"/><rect x="235.85" y="387.11" width="5.1" height="1.39" fill="#4472C4"/><path d="M238.4 387.11V386.92M236.9 386.92H239.9" stroke="#505050" stroke-width="0.7" fill="none"/><rect x="242.12" y="387.11" width="5.1" height="1.39" fill="#ED7D31"/><path d="M244.67 387.11V386.92M243.17 386.92H246.17" stroke="#505050" stroke-width="0.7" fill="none"/><text class="l" transform="translate(44.96 398.9) rotate(-45)" textLength="30" lengthAdjust="spacingAndGlyphs">5 DOS Root</text><text class="l m" transform="translate(68.09 397.7) rotate(-45)"><tspan x="-18.1" y="-0.5" textLength="36.47" lengthAdjust="spacingAndGlyphs">Inflorescence</tspan><tspan x="-15.2" y="5.4" textLength="18.54" lengthAdjust="spacingAndGlyphs">5-6 cm</tspan></text><text class="l" transform="translate(90.03 397.7) rotate(-45)" textLength="22.27" lengthAdjust="spacingAndGlyphs">0DAP FL</text><text class="l" transform="translate(111.95 397.7) rotate(-45)" textLength="22.27" lengthAdjust="spacingAndGlyphs">4DAP FL</text><text class="l" transform="translate(133.88 397.7) rotate(-45)" textLength="22.27" lengthAdjust="spacingAndGlyphs">7DAP FL</text><text class="l" transform="translate(155.81 397.7) rotate(-45)" textLength="25.66" lengthAdjust="spacingAndGlyphs">14DAP FL</text><text class="l" transform="translate(177.75 397.7) rotate(-45)" textLength="30.89" lengthAdjust="spacingAndGlyphs">0DAP Spike</text><text class="l" transform="translate(199.68 397.7) rotate(-45)" textLength="30.89" lengthAdjust="spacingAndGlyphs">4DAP Spike</text><text class="l" transform="translate(221.61 397.7) rotate(-45)" textLength="30.89" lengthAdjust="spacingAndGlyphs">7DAP Spike</text><text class="l" transform="translate(243.54 397.7) rotate(-45)" textLength="34.28" lengthAdjust="spacingAndGlyphs">14DAP Spike</text><path d="M33.6 344.6V342.6H49.6V344.6" stroke="#555" stroke-width="1.0" fill="none"/><path d="M88.6 328.2V326.2H157.4V328.2" stroke="#555" stroke-width="1.0" fill="none"/><path d="M176.4 375.5V373.5H245.4V375.5" stroke="#555" stroke-width="1.0" fill="none"/><circle cx="42" cy="340" r="1.1" fill="#2b2b2b"/><circle cx="45.4" cy="340" r="1.1" fill="#2b2b2b"/><circle cx="48" cy="343.6" r="1.1" fill="#2b2b2b"/><circle cx="107" cy="374.5" r="1.1" fill="#2b2b2b"/><circle cx="128.9" cy="324.2" r="1.1" fill="#2b2b2b"/><circle cx="132.3" cy="324.2" r="1.1" fill="#2b2b2b"/><circle cx="135.7" cy="324.2" r="1.1" fill="#2b2b2b"/><circle cx="151" cy="371.9" r="1.1" fill="#2b2b2b"/><circle cx="222.3" cy="370.5" r="1.1" fill="#2b2b2b"/><circle cx="222.7" cy="375.4" r="1.1" fill="#2b2b2b"/><text class="ti" x="135.5" y="312.7">TaNAC 94</text><text class="yl" transform="translate(9.8 354.4) rotate(-90)" textLength="67" lengthAdjust="spacing">Relative expression</text><rect x="111.3" y="431.3" width="3.5" height="3.5" fill="#4472C4"/><text class="lg" x="116.3" y="434.9">Kontesa</text><rect x="143.7" y="431.3" width="3.5" height="3.5" fill="#ED7D31"/><text class="lg" x="148.7" y="434.9">Ostka</text></g>
<g><line x1="296.9" y1="394.1" x2="545" y2="394.1" stroke="#D9D9D9" stroke-width="0.8"/><text class="t" x="291.7" y="396.15">0</text><line x1="296.9" y1="382.97" x2="545" y2="382.97" stroke="#D9D9D9" stroke-width="0.8"/><text class="t" x="291.7" y="385.02">0.002</text><line x1="296.9" y1="371.83" x2="545" y2="371.83" stroke="#D9D9D9" stroke-width="0.8"/><text class="t" x="291.7" y="373.89">0.004</text><line x1="296.9" y1="360.7" x2="545" y2="360.7" stroke="#D9D9D9" stroke-width="0.8"/><text class="t" x="291.7" y="362.75">0.006</text><line x1="296.9" y1="349.57" x2="545" y2="349.57" stroke="#D9D9D9" stroke-width="0.8"/><text class="t" x="291.7" y="351.62">0.008</text><line x1="296.9" y1="338.43" x2="545" y2="338.43" stroke="#D9D9D9" stroke-width="0.8"/><text class="t" x="291.7" y="340.49">0.01</text><line x1="296.9" y1="327.3" x2="545" y2="327.3" stroke="#D9D9D9" stroke-width="0.8"/><text class="t" x="291.7" y="329.35">0.012</text><rect x="302.87" y="343.17" width="5.77" height="50.94" fill="#4472C4"/><path d="M305.76 343.17V342.61M304.26 342.61H307.26" stroke="#505050" stroke-width="0.7" fill="none"/><rect x="309.97" y="344" width="5.77" height="50.1" fill="#ED7D31"/><path d="M312.85 344V340.66M311.35 340.66H314.35" stroke="#505050" stroke-width="0.7" fill="none"/><rect x="334.78" y="393.54" width="5.77" height="0.56" fill="#ED7D31"/><path d="M337.66 393.54V393.43M336.16 393.43H339.16" stroke="#505050" stroke-width="0.7" fill="none"/><rect x="352.49" y="392.99" width="5.77" height="1.11" fill="#4472C4"/><path d="M355.38 392.99V392.82M353.88 392.82H356.88" stroke="#505050" stroke-width="0.7" fill="none"/><rect x="359.59" y="392.43" width="5.77" height="1.67" fill="#ED7D31"/><path d="M362.47 392.43V392.26M360.97 392.26H363.97" stroke="#505050" stroke-width="0.7" fill="none"/><rect x="377.3" y="390.48" width="5.77" height="3.62" fill="#4472C4"/><path d="M380.19 390.48V390.2M378.69 390.2H381.69" stroke="#505050" stroke-width="0.7" fill="none"/><rect x="384.4" y="391.87" width="5.77" height="2.23" fill="#ED7D31"/><path d="M387.28 391.87V391.6M385.78 391.6H388.78" stroke="#505050" stroke-width="0.7" fill="none"/><rect x="402.11" y="358.03" width="5.77" height="36.07" fill="#4472C4"/><path d="M405 358.03V355.8M403.5 355.8H406.5" stroke="#505050" stroke-width="0.7" fill="none"/><rect x="409.21" y="355.8" width="5.77" height="38.3" fill="#ED7D31"/><path d="M412.09 355.8V351.35M410.59 351.35H413.59" stroke="#505050" stroke-width="0.7" fill="none"/><rect x="426.92" y="383.97" width="5.77" height="10.13" fill="#4472C4"/><path d="M429.81 383.97V382.86M428.31 382.86H431.31" stroke="#505050" stroke-width="0.7" fill="none"/><rect x="434.02" y="386.36" width="5.77" height="7.74" fill="#ED7D31"/><path d="M436.9 386.36V384.69M435.4 384.69H438.4" stroke="#505050" stroke-width="0.7" fill="none"/><rect x="451.73" y="392.99" width="5.77" height="1.11" fill="#4472C4"/><path d="M454.62 392.99V392.82M453.12 392.82H456.12" stroke="#505050" stroke-width="0.7" fill="none"/><rect x="458.83" y="393.54" width="5.77" height="0.56" fill="#ED7D31"/><path d="M461.71 393.54V393.43M460.21 393.43H463.21" stroke="#505050" stroke-width="0.7" fill="none"/><rect x="476.54" y="392.99" width="5.77" height="1.11" fill="#4472C4"/><path d="M479.43 392.99V392.82M477.93 392.82H480.93" stroke="#505050" stroke-width="0.7" fill="none"/><rect x="483.64" y="393.54" width="5.77" height="0.56" fill="#ED7D31"/><path d="M486.52 393.54V393.43M485.02 393.43H488.02" stroke="#505050" stroke-width="0.7" fill="none"/><rect x="501.35" y="357.19" width="5.77" height="36.91" fill="#4472C4"/><path d="M504.24 357.19V352.74M502.74 352.74H505.74" stroke="#505050" stroke-width="0.7" fill="none"/><rect x="508.45" y="349.79" width="5.77" height="44.31" fill="#ED7D31"/><path d="M511.33 349.79V347.56M509.83 347.56H512.83" stroke="#505050" stroke-width="0.7" fill="none"/><rect x="526.16" y="392.21" width="5.77" height="1.89" fill="#4472C4"/><path d="M529.05 392.21V391.93M527.55 391.93H530.55" stroke="#505050" stroke-width="0.7" fill="none"/><rect x="533.26" y="388.09" width="5.77" height="6.01" fill="#ED7D31"/><path d="M536.14 388.09V385.86M534.64 385.86H537.64" stroke="#505050" stroke-width="0.7" fill="none"/><text class="l" transform="translate(305.72 409.59) rotate(-45)" textLength="30" lengthAdjust="spacingAndGlyphs">5 DOS Root</text><text class="l m" transform="translate(336.12 403.3) rotate(-45)"><tspan x="-18.1" y="-0.5" textLength="36.47" lengthAdjust="spacingAndGlyphs">Inflorescence</tspan><tspan x="-15.2" y="5.4" textLength="18.54" lengthAdjust="spacingAndGlyphs">5-6 cm</tspan></text><text class="l" transform="translate(360.92 403.3) rotate(-45)" textLength="22.27" lengthAdjust="spacingAndGlyphs">0DAP FL</text><text class="l" transform="translate(385.74 403.3) rotate(-45)" textLength="22.27" lengthAdjust="spacingAndGlyphs">4DAP FL</text><text class="l" transform="translate(410.54 403.3) rotate(-45)" textLength="22.27" lengthAdjust="spacingAndGlyphs">7DAP FL</text><text class="l" transform="translate(435.36 403.3) rotate(-45)" textLength="25.66" lengthAdjust="spacingAndGlyphs">14DAP FL</text><text class="l" transform="translate(460.16 403.3) rotate(-45)" textLength="30.89" lengthAdjust="spacingAndGlyphs">0DAP Spike</text><text class="l" transform="translate(484.98 403.3) rotate(-45)" textLength="30.89" lengthAdjust="spacingAndGlyphs">4DAP Spike</text><text class="l" transform="translate(509.78 403.3) rotate(-45)" textLength="30.89" lengthAdjust="spacingAndGlyphs">7DAP Spike</text><text class="l" transform="translate(534.6 403.3) rotate(-45)" textLength="34.28" lengthAdjust="spacingAndGlyphs">14DAP Spike</text><path d="M300.8 339.6V337.6H319.7V339.6" stroke="#555" stroke-width="1.0" fill="none"/><path d="M360.4 350.3V348.3H437.4V350.3" stroke="#555" stroke-width="1.0" fill="none"/><path d="M461.4 345.1V343.1H538.3V345.1" stroke="#555" stroke-width="1.0" fill="none"/><circle cx="307.9" cy="334.1" r="1.1" fill="#2b2b2b"/><circle cx="311.3" cy="334.1" r="1.1" fill="#2b2b2b"/><circle cx="314.7" cy="334.1" r="1.1" fill="#2b2b2b"/><circle cx="407.6" cy="341.5" r="1.1" fill="#2b2b2b"/><circle cx="411" cy="341.5" r="1.1" fill="#2b2b2b"/><circle cx="414.4" cy="341.5" r="1.1" fill="#2b2b2b"/><circle cx="428.8" cy="345" r="1.1" fill="#2b2b2b"/><circle cx="432.2" cy="345" r="1.1" fill="#2b2b2b"/><circle cx="504.3" cy="337.6" r="1.1" fill="#2b2b2b"/><circle cx="507.7" cy="337.6" r="1.1" fill="#2b2b2b"/><circle cx="511.1" cy="337.6" r="1.1" fill="#2b2b2b"/><circle cx="511.5" cy="345.8" r="1.1" fill="#2b2b2b"/><circle cx="535.5" cy="383.2" r="1.1" fill="#2b2b2b"/><text class="ti" x="412.2" y="317.3">TaNACBr-1</text><rect x="387.3" y="436.7" width="3.5" height="3.5" fill="#4472C4"/><text class="lg" x="392.3" y="440.3">Kontesa</text><rect x="419.7" y="436.7" width="3.5" height="3.5" fill="#ED7D31"/><text class="lg" x="424.7" y="440.3">Ostka</text></g>
</svg></body></html>
